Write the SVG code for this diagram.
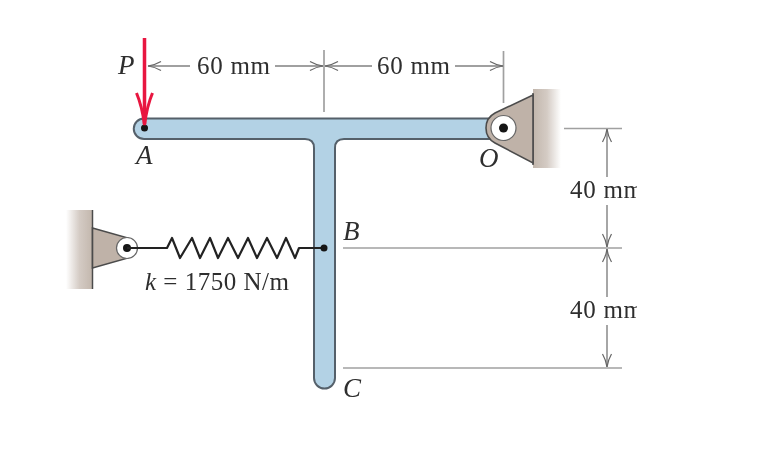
<svg xmlns="http://www.w3.org/2000/svg" width="761" height="454" viewBox="0 0 761 454">
<defs>
<linearGradient id="wallR" x1="0" x2="1" y1="0" y2="0"><stop offset="0" stop-color="#c2b6ac"/><stop offset="0.5" stop-color="#d4cbc4"/><stop offset="1" stop-color="#ffffff"/></linearGradient>
<linearGradient id="wallL" x1="1" x2="0" y1="0" y2="0"><stop offset="0" stop-color="#c2b6ac"/><stop offset="0.5" stop-color="#d4cbc4"/><stop offset="1" stop-color="#ffffff"/></linearGradient>
<clipPath id="cut"><rect x="540" y="160" width="97" height="180"/></clipPath>
<filter id="soft" x="-5%" y="-5%" width="110%" height="110%"><feGaussianBlur stdDeviation="0.45"/></filter>
<marker id="arr" markerUnits="userSpaceOnUse" markerWidth="20" markerHeight="12" refX="17" refY="6" orient="auto-start-reverse"><path d="M4 1.500 Q10 5 17 6 Q10 7 4 10.500" fill="none" stroke="#666" stroke-width="1.2"/></marker>
</defs>
<style>
text{font-family:"Liberation Serif","Times New Roman",serif;fill:#2e2e2e;font-size:25px}
.i{font-style:italic;font-size:27px}
tspan.k{font-style:italic}
.dim{stroke:#808080;stroke-width:1.4;fill:none}
.ext{stroke:#a0a0a0;stroke-width:1.7;fill:none}
.a{marker-end:url(#arr)}
.br{fill:#bfb2a8;stroke:#4c4c4c;stroke-width:1.6}
.dot{fill:#161616}
.ring{fill:#fff;stroke:#666;stroke-width:1.2}
</style>
<rect width="761" height="454" fill="#fff"/>
<g filter="url(#soft)">
<g id="wall-O"><rect x="533" y="89" width="28" height="79" fill="url(#wallR)"/><line x1="533" y1="93" x2="533" y2="165" stroke="#4c4c4c" stroke-width="1.5"/></g>
<g id="wall-spring"><rect x="66" y="210" width="27" height="79" fill="url(#wallL)"/><line x1="92.500" y1="210" x2="92.500" y2="289" stroke="#4c4c4c" stroke-width="1.5"/></g>
<g id="T-bar"><path d="M144 118.500H490V139H344Q335 139 335 148V378A10.500 10.500 0 0 1 314 378V148Q314 139 305 139H144A10.250 10.250 0 0 1 144 118.500Z" fill="#b3d2e5" stroke="#55616b" stroke-width="2"/></g>
<g id="bracket-O"><path class="br" d="M533 95V163L495 143A17 17 0 0 1 495 113Z"/><circle cx="503.500" cy="128" r="12.500" class="ring"/><circle cx="503.500" cy="128" r="4.500" class="dot"/></g>
<g id="bracket-spring"><path class="br" d="M92.500 228L128 238V258L92.500 268Z"/><circle cx="127" cy="248" r="10.500" class="ring"/><circle cx="127" cy="248" r="4" class="dot"/></g>
<g id="connectors">
<path d="M127 248H167L172 238L180 258L192 238L200 258L210 238L218 258L228 238L238 258L248 238L257 258L267 238L277 258L286 238L295 258L299 248H324" fill="none" stroke="#222" stroke-width="2.200" stroke-linejoin="round"/>
<g id="dimensions">
<line class="ext" x1="324" y1="50" x2="324" y2="112"/>
<line class="ext" x1="503.500" y1="51" x2="503.500" y2="103"/>
<line class="ext" x1="564" y1="128.500" x2="622" y2="128.500"/>
<line class="ext" x1="343" y1="248" x2="622" y2="248"/>
<line class="ext" x1="343" y1="368" x2="622" y2="368"/>
<line class="dim a" x1="190" y1="66" x2="148" y2="66"/>
<line class="dim a" x1="275" y1="66" x2="323" y2="66"/>
<line class="dim a" x1="372" y1="66" x2="325" y2="66"/>
<line class="dim a" x1="455" y1="66" x2="503" y2="66"/>
<line class="dim a" x1="607" y1="177" x2="607" y2="129"/>
<line class="dim a" x1="607" y1="205" x2="607" y2="247"/>
<line class="dim a" x1="607" y1="297" x2="607" y2="249"/>
<line class="dim a" x1="607" y1="325" x2="607" y2="367"/>
</g>
</g>
<g id="pin-A"><circle cx="144.500" cy="128" r="3.500" class="dot"/></g>
<g id="pin-spring"><circle cx="324" cy="248" r="3.500" class="dot"/></g>
<g id="force-P"><path d="M144.500 38V124" stroke="#e8173f" stroke-width="3.500" fill="none"/><path d="M136.500 93Q142 106 144.500 125Q147 106 152.500 93" stroke="#e8173f" stroke-width="3" fill="none"/></g>
<g id="labels">
<text class="i" x="118" y="74">P</text>
<text class="i" x="136" y="164">A</text>
<text class="i" x="479" y="167">O</text>
<text class="i" x="343" y="240">B</text>
<text class="i" x="343" y="397">C</text>
<text x="197" y="74" textLength="73">60 mm</text>
<text x="377" y="74" textLength="73">60 mm</text>
<g clip-path="url(#cut)">
<text x="570" y="198" textLength="73">40 mm</text>
<text x="570" y="318" textLength="73">40 mm</text>
</g>
<text x="145" y="290" textLength="144"><tspan class="k">k</tspan> = 1750 N/m</text>
</g>
</g>
</svg>
